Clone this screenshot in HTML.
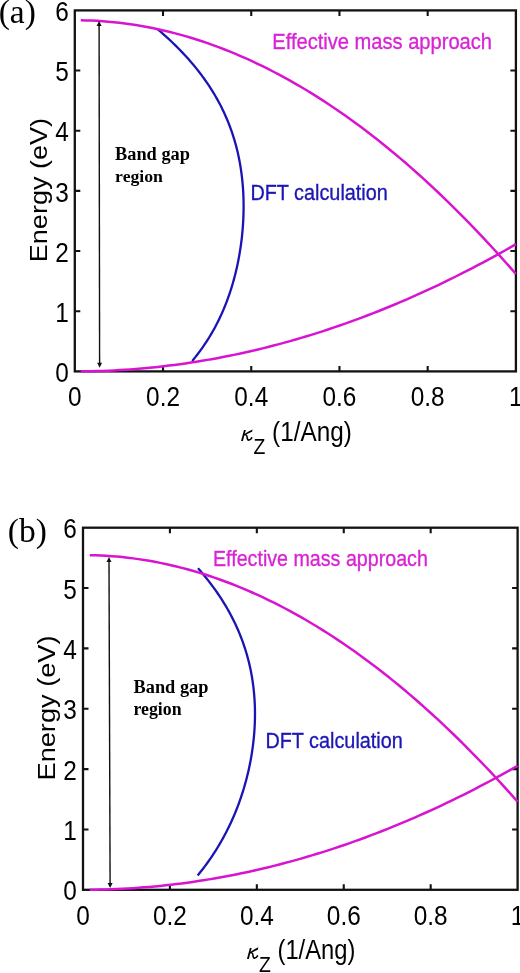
<!DOCTYPE html>
<html><head><meta charset="utf-8"><title>Energy vs kappa</title>
<style>
html,body{margin:0;padding:0;background:#fff;width:520px;height:973px;overflow:hidden}
svg{display:block}
text{font-family:"Liberation Sans",Arial,sans-serif}
.serif{font-family:"Liberation Serif","Times New Roman",serif}
.kap{font-family:"IPAGothic","Liberation Serif",serif}
</style></head><body>
<svg width="520" height="973" viewBox="0 0 520 973">
<rect width="520" height="973" fill="#fff"/>
<rect x="74.8" y="10.4" width="441.1" height="361" fill="none" stroke="#121212" stroke-width="2.3"/>
<path d="M163.02 371.4v-5.5M163.02 10.4v5.5M251.24 371.4v-5.5M251.24 10.4v5.5M339.46 371.4v-5.5M339.46 10.4v5.5M427.68 371.4v-5.5M427.68 10.4v5.5M74.8 311.23h5.5M515.9 311.23h-5.5M74.8 251.07h5.5M515.9 251.07h-5.5M74.8 190.9h5.5M515.9 190.9h-5.5M74.8 130.73h5.5M515.9 130.73h-5.5M74.8 70.57h5.5M515.9 70.57h-5.5" stroke="#121212" stroke-width="2.1" fill="none"/>
<polyline points="156.91,28.6 160.84,31.96 164.64,35.32 168.34,38.67 171.92,42.03 175.39,45.39 178.75,48.75 182,52.1 185.15,55.46 188.19,58.82 191.13,62.18 193.97,65.53 196.7,68.89 199.34,72.25 201.89,75.61 204.34,78.96 206.69,82.32 208.96,85.68 211.14,89.04 213.23,92.39 215.23,95.75 217.15,99.11 218.99,102.47 220.74,105.82 222.42,109.18 224.02,112.54 225.55,115.9 227,119.25 228.38,122.61 229.69,125.97 230.92,129.33 232.1,132.68 233.2,136.04 234.24,139.4 235.22,142.76 236.14,146.12 237,149.47 237.8,152.83 238.54,156.19 239.22,159.55 239.85,162.9 240.43,166.26 240.96,169.62 241.43,172.98 241.86,176.33 242.23,179.69 242.56,183.05 242.84,186.41 243.08,189.76 243.27,193.12 243.42,196.48 243.52,199.84 243.58,203.19 243.6,206.55 243.57,209.91 243.51,213.27 243.4,216.62 243.26,219.98 243.07,223.34 242.84,226.7 242.58,230.05 242.27,233.41 241.93,236.77 241.54,240.13 241.11,243.48 240.65,246.84 240.14,250.2 239.59,253.56 239,256.92 238.37,260.27 237.7,263.63 236.98,266.99 236.21,270.35 235.4,273.7 234.54,277.06 233.64,280.42 232.68,283.78 231.68,287.13 230.62,290.49 229.5,293.85 228.33,297.21 227.11,300.56 225.82,303.92 224.47,307.28 223.06,310.64 221.58,313.99 220.03,317.35 218.41,320.71 216.71,324.07 214.94,327.42 213.08,330.78 211.15,334.14 209.12,337.5 207.01,340.85 204.8,344.21 202.5,347.57 200.09,350.93 197.58,354.28 194.96,357.64 192.23,361" fill="none" stroke="#1a14b4" stroke-width="2.3" stroke-linejoin="round"/>
<polyline points="80.8,20.25 86.31,20.38 91.81,20.58 97.32,20.87 102.83,21.23 108.34,21.67 113.84,22.2 119.35,22.8 124.86,23.48 130.37,24.23 135.88,25.07 141.38,25.99 146.89,26.99 152.4,28.06 157.91,29.22 163.41,30.45 168.92,31.76 174.43,33.15 179.94,34.62 185.44,36.17 190.95,37.8 196.46,39.51 201.97,41.3 207.47,43.17 212.98,45.11 218.49,47.14 224,49.24 229.5,51.42 235.01,53.69 240.52,56.03 246.03,58.45 251.53,60.95 257.04,63.53 262.55,66.18 268.06,68.92 273.57,71.74 279.07,74.63 284.58,77.61 290.09,80.66 295.6,83.79 301.1,87.01 306.61,90.3 312.12,93.67 317.63,97.12 323.13,100.64 328.64,104.25 334.15,107.94 339.66,111.7 345.16,115.55 350.67,119.47 356.18,123.48 361.69,127.56 367.19,131.72 372.7,135.96 378.21,140.28 383.72,144.68 389.23,149.16 394.73,153.71 400.24,158.35 405.75,163.07 411.26,167.86 416.76,172.73 422.27,177.69 427.78,182.72 433.29,187.83 438.79,193.02 444.3,198.29 449.81,203.64 455.32,209.06 460.82,214.57 466.33,220.16 471.84,225.82 477.35,231.57 482.85,237.39 488.36,243.29 493.87,249.27 499.38,255.33 504.88,261.47 510.39,267.69 515.9,273.99" fill="none" stroke="#d814d0" stroke-width="2.5" stroke-linejoin="round"/>
<polyline points="80.8,371.38 86.31,371.31 91.81,371.21 97.32,371.07 102.83,370.89 108.34,370.66 113.84,370.4 119.35,370.1 124.86,369.76 130.37,369.38 135.88,368.96 141.38,368.5 146.89,368 152.4,367.46 157.91,366.89 163.41,366.27 168.92,365.61 174.43,364.91 179.94,364.17 185.44,363.4 190.95,362.58 196.46,361.72 201.97,360.83 207.47,359.89 212.98,358.92 218.49,357.9 224,356.85 229.5,355.75 235.01,354.62 240.52,353.45 246.03,352.23 251.53,350.98 257.04,349.69 262.55,348.36 268.06,346.98 273.57,345.57 279.07,344.12 284.58,342.63 290.09,341.1 295.6,339.53 301.1,337.92 306.61,336.27 312.12,334.58 317.63,332.85 323.13,331.09 328.64,329.28 334.15,327.43 339.66,325.54 345.16,323.62 350.67,321.65 356.18,319.64 361.69,317.6 367.19,315.51 372.7,313.39 378.21,311.22 383.72,309.02 389.23,306.77 394.73,304.49 400.24,302.16 405.75,299.8 411.26,297.4 416.76,294.96 422.27,292.47 427.78,289.95 433.29,287.39 438.79,284.79 444.3,282.15 449.81,279.47 455.32,276.75 460.82,273.99 466.33,271.19 471.84,268.35 477.35,265.47 482.85,262.55 488.36,259.59 493.87,256.6 499.38,253.56 504.88,250.48 510.39,247.36 515.9,244.21" fill="none" stroke="#d814d0" stroke-width="2.5" stroke-linejoin="round"/>
<path d="M99.1 25L99.6 363.8" stroke="#111" stroke-width="1.4"/>
<path d="M99.1 21l-2.5 5h5z M99.6 367.8l-2.5 -5h5z" fill="#111"/>
<rect x="83" y="527.7" width="434.6" height="362.1" fill="none" stroke="#121212" stroke-width="2.3"/>
<path d="M169.92 889.8v-5.5M169.92 527.7v5.5M256.84 889.8v-5.5M256.84 527.7v5.5M343.76 889.8v-5.5M343.76 527.7v5.5M430.68 889.8v-5.5M430.68 527.7v5.5M83 829.45h5.5M517.6 829.45h-5.5M83 769.1h5.5M517.6 769.1h-5.5M83 708.75h5.5M517.6 708.75h-5.5M83 648.4h5.5M517.6 648.4h-5.5M83 588.05h5.5M517.6 588.05h-5.5" stroke="#121212" stroke-width="2.1" fill="none"/>
<polyline points="197.99,568.2 200.69,571.3 203.31,574.41 205.85,577.51 208.31,580.61 210.71,583.72 213.02,586.82 215.27,589.92 217.44,593.02 219.54,596.13 221.56,599.23 223.52,602.33 225.41,605.44 227.23,608.54 228.99,611.64 230.68,614.75 232.3,617.85 233.86,620.95 235.35,624.05 236.78,627.16 238.15,630.26 239.46,633.36 240.71,636.47 241.9,639.57 243.03,642.67 244.11,645.78 245.13,648.88 246.09,651.98 247,655.08 247.86,658.19 248.66,661.29 249.41,664.39 250.11,667.5 250.76,670.6 251.36,673.7 251.91,676.81 252.41,679.91 252.87,683.01 253.28,686.12 253.64,689.22 253.96,692.32 254.23,695.42 254.46,698.53 254.65,701.63 254.8,704.73 254.9,707.84 254.96,710.94 254.98,714.04 254.96,717.15 254.9,720.25 254.79,723.35 254.65,726.45 254.48,729.56 254.26,732.66 254,735.76 253.71,738.87 253.37,741.97 253,745.07 252.59,748.18 252.15,751.28 251.66,754.38 251.14,757.48 250.58,760.59 249.98,763.69 249.34,766.79 248.67,769.9 247.96,773 247.2,776.1 246.41,779.21 245.58,782.31 244.71,785.41 243.8,788.52 242.85,791.62 241.85,794.72 240.81,797.82 239.73,800.93 238.61,804.03 237.44,807.13 236.22,810.24 234.96,813.34 233.65,816.44 232.28,819.55 230.87,822.65 229.41,825.75 227.9,828.85 226.33,831.96 224.7,835.06 223.02,838.16 221.27,841.27 219.47,844.37 217.61,847.47 215.68,850.58 213.68,853.68 211.62,856.78 209.48,859.88 207.28,862.99 204.99,866.09 202.64,869.19 200.2,872.3 197.68,875.4" fill="none" stroke="#1a14b4" stroke-width="2.3" stroke-linejoin="round"/>
<polyline points="89.78,555.16 95.2,555.29 100.61,555.5 106.03,555.79 111.44,556.16 116.86,556.6 122.27,557.11 127.69,557.71 133.1,558.38 138.52,559.12 143.93,559.95 149.35,560.85 154.77,561.82 160.18,562.88 165.6,564.01 171.01,565.21 176.43,566.5 181.84,567.86 187.26,569.29 192.67,570.81 198.09,572.4 203.5,574.06 208.92,575.8 214.34,577.62 219.75,579.52 225.17,581.49 230.58,583.54 236,585.67 241.41,587.87 246.83,590.15 252.24,592.5 257.66,594.94 263.07,597.44 268.49,600.03 273.9,602.69 279.32,605.43 284.74,608.24 290.15,611.14 295.57,614.1 300.98,617.15 306.4,620.27 311.81,623.47 317.23,626.74 322.64,630.09 328.06,633.52 333.47,637.03 338.89,640.61 344.31,644.27 349.72,648 355.14,651.81 360.55,655.7 365.97,659.66 371.38,663.7 376.8,667.82 382.21,672.01 387.63,676.28 393.04,680.63 398.46,685.05 403.88,689.55 409.29,694.13 414.71,698.78 420.12,703.51 425.54,708.32 430.95,713.2 436.37,718.16 441.78,723.2 447.2,728.31 452.61,733.5 458.03,738.77 463.45,744.11 468.86,749.53 474.28,755.03 479.69,760.6 485.11,766.25 490.52,771.97 495.94,777.77 501.35,783.65 506.77,789.61 512.18,795.64 517.6,801.75" fill="none" stroke="#d814d0" stroke-width="2.5" stroke-linejoin="round"/>
<polyline points="89.78,889.77 95.2,889.7 100.61,889.6 106.03,889.45 111.44,889.27 116.86,889.05 122.27,888.79 127.69,888.49 133.1,888.15 138.52,887.78 143.93,887.36 149.35,886.91 154.77,886.42 160.18,885.89 165.6,885.32 171.01,884.71 176.43,884.07 181.84,883.39 187.26,882.66 192.67,881.9 198.09,881.1 203.5,880.27 208.92,879.39 214.34,878.47 219.75,877.52 225.17,876.53 230.58,875.5 236,874.43 241.41,873.32 246.83,872.18 252.24,870.99 257.66,869.77 263.07,868.51 268.49,867.21 273.9,865.87 279.32,864.49 284.74,863.08 290.15,861.62 295.57,860.13 300.98,858.6 306.4,857.03 311.81,855.42 317.23,853.78 322.64,852.09 328.06,850.37 333.47,848.61 338.89,846.81 344.31,844.97 349.72,843.09 355.14,841.17 360.55,839.22 365.97,837.22 371.38,835.19 376.8,833.12 382.21,831.01 387.63,828.87 393.04,826.68 398.46,824.46 403.88,822.19 409.29,819.89 414.71,817.55 420.12,815.18 425.54,812.76 430.95,810.3 436.37,807.81 441.78,805.28 447.2,802.71 452.61,800.1 458.03,797.45 463.45,794.76 468.86,792.04 474.28,789.27 479.69,786.47 485.11,783.63 490.52,780.75 495.94,777.84 501.35,774.88 506.77,771.89 512.18,768.85 517.6,765.78" fill="none" stroke="#d814d0" stroke-width="2.5" stroke-linejoin="round"/>
<path d="M109 561.1L110.1 884.1" stroke="#111" stroke-width="1.4"/>
<path d="M109 557.1l-2.5 5h5z M110.1 888.1l-2.5 -5h5z" fill="#111"/>
<text transform="translate(68.7,382) scale(0.91,1)" font-size="26.8" text-anchor="end">0</text>
<text transform="translate(68.7,321.83) scale(0.91,1)" font-size="26.8" text-anchor="end">1</text>
<text transform="translate(68.7,261.67) scale(0.91,1)" font-size="26.8" text-anchor="end">2</text>
<text transform="translate(68.7,201.5) scale(0.91,1)" font-size="26.8" text-anchor="end">3</text>
<text transform="translate(68.7,141.33) scale(0.91,1)" font-size="26.8" text-anchor="end">4</text>
<text transform="translate(68.7,81.17) scale(0.91,1)" font-size="26.8" text-anchor="end">5</text>
<text transform="translate(68.7,21) scale(0.91,1)" font-size="26.8" text-anchor="end">6</text>
<text transform="translate(74.8,406.3) scale(0.91,1)" font-size="26.8" text-anchor="middle">0</text>
<text transform="translate(163.02,406.3) scale(0.91,1)" font-size="26.8" text-anchor="middle">0.2</text>
<text transform="translate(251.24,406.3) scale(0.91,1)" font-size="26.8" text-anchor="middle">0.4</text>
<text transform="translate(339.46,406.3) scale(0.91,1)" font-size="26.8" text-anchor="middle">0.6</text>
<text transform="translate(427.68,406.3) scale(0.91,1)" font-size="26.8" text-anchor="middle">0.8</text>
<text transform="translate(515.9,406.3) scale(0.91,1)" font-size="26.8" text-anchor="middle">1</text>
<text transform="translate(76.7,900.4) scale(0.91,1)" font-size="26.8" text-anchor="end">0</text>
<text transform="translate(76.7,840.05) scale(0.91,1)" font-size="26.8" text-anchor="end">1</text>
<text transform="translate(76.7,779.7) scale(0.91,1)" font-size="26.8" text-anchor="end">2</text>
<text transform="translate(76.7,719.35) scale(0.91,1)" font-size="26.8" text-anchor="end">3</text>
<text transform="translate(76.7,659) scale(0.91,1)" font-size="26.8" text-anchor="end">4</text>
<text transform="translate(76.7,598.65) scale(0.91,1)" font-size="26.8" text-anchor="end">5</text>
<text transform="translate(76.7,538.3) scale(0.91,1)" font-size="26.8" text-anchor="end">6</text>
<text transform="translate(83,924.7) scale(0.91,1)" font-size="26.8" text-anchor="middle">0</text>
<text transform="translate(169.92,924.7) scale(0.91,1)" font-size="26.8" text-anchor="middle">0.2</text>
<text transform="translate(256.84,924.7) scale(0.91,1)" font-size="26.8" text-anchor="middle">0.4</text>
<text transform="translate(343.76,924.7) scale(0.91,1)" font-size="26.8" text-anchor="middle">0.6</text>
<text transform="translate(430.68,924.7) scale(0.91,1)" font-size="26.8" text-anchor="middle">0.8</text>
<text transform="translate(517.6,924.7) scale(0.91,1)" font-size="26.8" text-anchor="middle">1</text>
<text transform="translate(235.4,441.9)" font-size="22.5" class="kap">&#954;</text>
<text transform="translate(253.6,453.7) scale(0.87,1)" font-size="22.3">Z</text>
<text transform="translate(272.1,441.2) scale(0.9,1)" font-size="27">(1/Ang)</text>
<text transform="translate(241.6,960.4)" font-size="22.2" class="kap">&#954;</text>
<text transform="translate(259.1,972) scale(0.87,1)" font-size="22.3">Z</text>
<text transform="translate(277.5,959.2) scale(0.88,1)" font-size="27">(1/Ang)</text>
<text transform="translate(46.5,262.2) rotate(-90) scale(1,0.89)" font-size="27.05">Energy (eV)</text>
<text transform="translate(55.2,780.5) rotate(-90) scale(1,0.89)" font-size="27.2">Energy (eV)</text>
<text transform="translate(272.3,48.8) scale(0.89,1)" font-size="22.6" fill="#d824d4" stroke="#d824d4" stroke-width="0.35">Effective mass approach</text>
<text transform="translate(213,566.2) scale(0.87,1)" font-size="22.6" fill="#d824d4" stroke="#d824d4" stroke-width="0.35">Effective mass approach</text>
<text transform="translate(250.4,199.9) scale(0.87,1)" font-size="22.8" fill="#1c16b4" stroke="#1c16b4" stroke-width="0.35">DFT calculation</text>
<text transform="translate(265.4,747.6) scale(0.87,1)" font-size="22.8" fill="#1c16b4" stroke="#1c16b4" stroke-width="0.35">DFT calculation</text>
<text transform="translate(115,160.3) scale(1.02,1)" font-size="18" class="serif" font-weight="bold">Band gap</text>
<text transform="translate(115.1,182.4)" font-size="17.7" class="serif" font-weight="bold">region</text>
<text transform="translate(133.5,692.6) scale(1.02,1)" font-size="18" class="serif" font-weight="bold">Band gap</text>
<text transform="translate(133.5,714.5)" font-size="17.8" class="serif" font-weight="bold">region</text>
<text transform="translate(-1.3,22.9)" font-size="33.5" class="serif">(a)</text>
<text transform="translate(7.8,541.8)" font-size="33.5" class="serif">(b)</text>
</svg>
</body></html>
